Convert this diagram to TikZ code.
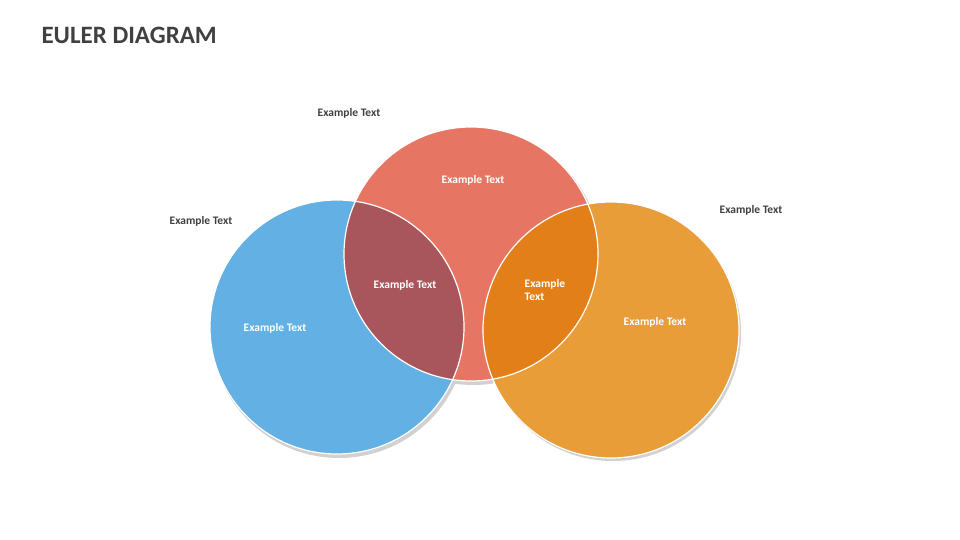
\documentclass[tikz,border=0pt]{standalone}
\usepackage{fontspec}
\setmainfont{Carlito}
\definecolor{cblue}{HTML}{63B0E4}
\definecolor{cred}{HTML}{E67663}
\definecolor{corange}{HTML}{E99D38}
\definecolor{cbr}{HTML}{A8565B}
\definecolor{cro}{HTML}{E27F18}
\definecolor{ctitle}{HTML}{404040}
\begin{document}
\begin{tikzpicture}[x=1pt,y=-1pt,
  lab/.style={font=\bfseries\fontsize{11.5}{13}\selectfont,text=ctitle},
  wlab/.style={font=\bfseries\fontsize{11.5}{13}\selectfont,text=white,align=left}]
\useasboundingbox (0,0) rectangle (960,540);
\node[anchor=west,font=\bfseries\fontsize{25}{28}\selectfont,text=ctitle] (title) at (38,35) {EULER DIAGRAM};
\coordinate (B) at (337,327);
\coordinate (R) at (471,254);
\coordinate (O) at (611,330);
% shadows
\foreach \c in {B,R,O} \fill[black!18] ([shift={(2,3)}]\c) circle (128);
\fill[cblue] (B) circle (127);
\fill[cred] (R) circle (127);
\fill[corange] (O) circle (128);
\begin{scope}\clip (B) circle (127); \fill[cbr] (R) circle (127);\end{scope}
\begin{scope}\clip (O) circle (128); \fill[cro] (R) circle (127);\end{scope}
\foreach \c/\r in {B/127,R/127,O/128} \draw[white,line width=1.2pt] (\c) circle (\r);
\node[lab] (t1) at (349,113) {Example Text};
\node[lab] (t2) at (201,221) {Example Text};
\node[lab] (t3) at (751,210) {Example Text};
\node[wlab] (w1) at (473,180) {Example Text};
\node[wlab] (w2) at (405,285) {Example Text};
\node[wlab] (w3) at (275,328) {Example Text};
\node[wlab] (w4) at (545,290) {Example\\Text};
\node[wlab] (w5) at (655,322) {Example Text};
\end{tikzpicture}
\end{document}
